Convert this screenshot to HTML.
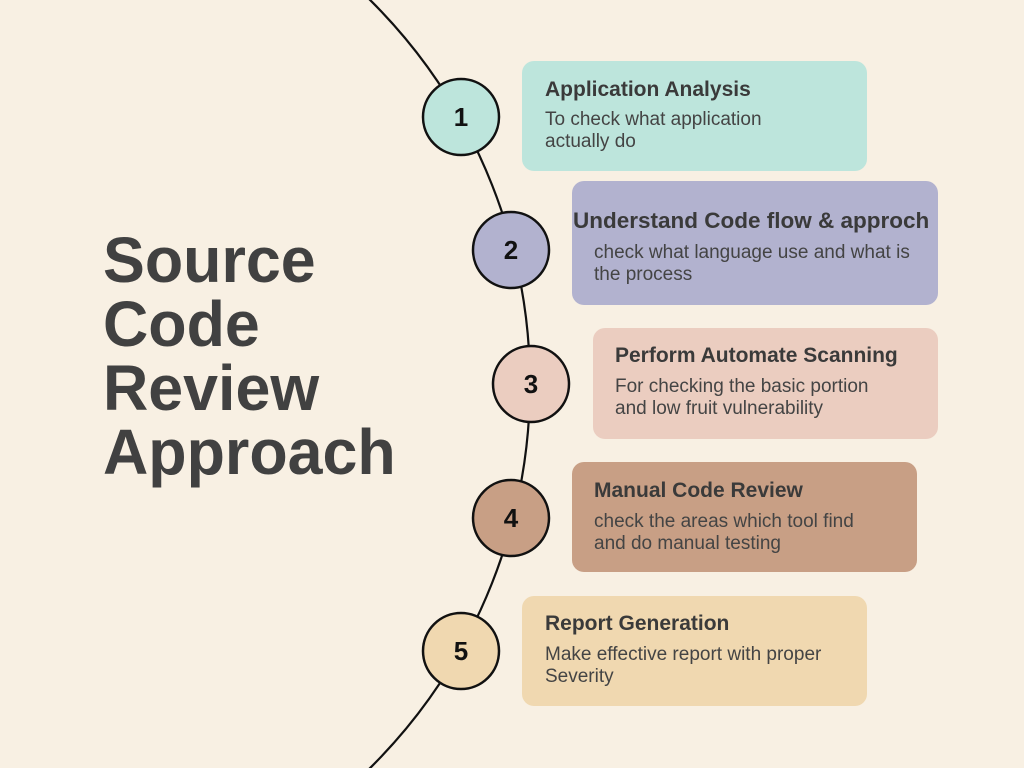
<!DOCTYPE html>
<html style="overflow:hidden"><head><meta charset="utf-8"><style>
html,body{margin:0;padding:0}
body{width:1024px;height:768px;background:#f8f0e3;position:relative;overflow:hidden;font-family:"Liberation Sans",sans-serif;color:#3d3d3d}
.t{position:absolute;left:103px;top:228px;font-size:64px;font-weight:bold;transform:scaleX(0.98);transform-origin:left;line-height:64px;color:#414141}
.b{position:absolute;border-radius:12px}
.b h{display:block;font-weight:bold;font-size:21px;color:#3a3a3a;position:absolute;white-space:nowrap}
.b p{margin:0;position:absolute;font-size:19px;line-height:22px;color:#444;white-space:nowrap}
</style></head><body>
<svg width="1024" height="768" style="position:absolute;left:0;top:0">
<circle cx="-11" cy="384" r="541" fill="none" stroke="#111" stroke-width="2.2"/>
<g stroke="#111" stroke-width="2.5" font-family="Liberation Sans" font-weight="bold" font-size="26" text-anchor="middle">
<circle cx="461" cy="117" r="38" fill="#bde5dc"/><text x="461" y="126" stroke="none" fill="#111">1</text>
<circle cx="511" cy="250" r="38" fill="#b2b2cf"/><text x="511" y="259" stroke="none" fill="#111">2</text>
<circle cx="531" cy="384" r="38" fill="#ebcdc0"/><text x="531" y="393" stroke="none" fill="#111">3</text>
<circle cx="511" cy="518" r="38" fill="#c89f85"/><text x="511" y="527" stroke="none" fill="#111">4</text>
<circle cx="461" cy="651" r="38" fill="#f0d8b0"/><text x="461" y="660" stroke="none" fill="#111">5</text>
</g></svg>
<div class="t">Source<br>Code<br>Review<br>Approach</div>
<div class="b" style="left:522px;top:61px;width:345px;height:110px;background:#bde5dc"><h style="left:23px;top:17px">Application Analysis</h><p style="left:23px;top:48px">To check what application<br>actually do</p></div>
<div class="b" style="left:572px;top:181px;width:366px;height:124px;background:#b2b2cf"><h style="left:1px;top:27px;font-size:22.5px">Understand Code flow &amp; approch</h><p style="left:22px;top:61px">check what language use and what is<br>the process</p></div>
<div class="b" style="left:593px;top:328px;width:345px;height:111px;background:#ebcdc0"><h style="left:22px;top:16px">Perform Automate Scanning</h><p style="left:22px;top:48px">For checking the basic portion<br>and low fruit vulnerability</p></div>
<div class="b" style="left:572px;top:462px;width:345px;height:110px;background:#c89f85"><h style="left:22px;top:17px">Manual Code Review</h><p style="left:22px;top:49px">check the areas which tool find<br>and do manual testing</p></div>
<div class="b" style="left:522px;top:596px;width:345px;height:110px;background:#f0d8b0"><h style="left:23px;top:16px">Report Generation</h><p style="left:23px;top:48px">Make effective report with proper<br>Severity</p></div>
</body></html>
